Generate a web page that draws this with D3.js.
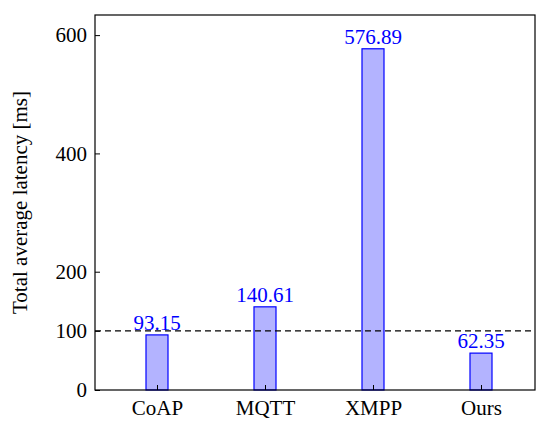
<!DOCTYPE html>
<html>
<head>
<meta charset="utf-8">
<script src="https://cdn.jsdelivr.net/npm/d3@7"></script>
<style>
  body { margin: 0; background: #fff; }
  text { font-family: "Liberation Serif", "DejaVu Serif", serif; }
</style>
</head>
<body>
<svg id="chart" width="550" height="434"></svg>
<script>
var categories = ['CoAP', 'MQTT', 'XMPP', 'Ours'];
var latency = [93.15, 140.61, 576.89, 62.35];
var yTicks = [0, 100, 200, 400, 600];
var threshold = 100;

var margin = { top: 15, right: 15, bottom: 44, left: 95 };
var width = 550 - margin.left - margin.right,
    height = 434 - margin.top - margin.bottom;

var svg = d3.select('#chart')
  .append('g')
    .attr('transform', 'translate(' + margin.left + ',' + margin.top + ')');

var x = d3.scalePoint()
    .domain(categories)
    .range([62, width - 54]);

var y = d3.scaleLinear()
    .domain([0, 634])
    .range([height, 0]);

var barWidth = 22;
var fontSize = 21;

// bars
svg.selectAll('rect.bar')
  .data(latency)
  .enter().append('rect')
    .attr('class', 'bar')
    .attr('x', function (d, i) { return x(categories[i]) - barWidth / 2; })
    .attr('y', function (d) { return y(d); })
    .attr('width', barWidth)
    .attr('height', function (d) { return y(0) - y(d); })
    .attr('fill', '#b3b3ff')
    .attr('stroke', '#0000ff')
    .attr('stroke-width', 1.2);

// value labels
svg.selectAll('text.val')
  .data(latency)
  .enter().append('text')
    .attr('class', 'val')
    .attr('x', function (d, i) { return x(categories[i]); })
    .attr('y', function (d) { return y(d) - 5; })
    .attr('text-anchor', 'middle')
    .attr('fill', '#0000ff')
    .attr('font-size', fontSize)
    .text(function (d) { return d.toFixed(2); });

// threshold line
svg.append('line')
  .attr('x1', 0).attr('x2', width)
  .attr('y1', y(threshold)).attr('y2', y(threshold))
  .attr('stroke', '#000')
  .attr('stroke-width', 1.2)
  .attr('stroke-dasharray', '6,4');

// axes
var yAxis = svg.append('g')
  .call(d3.axisLeft(y).tickValues(yTicks).tickSize(-5).tickPadding(8));
yAxis.selectAll('text').attr('font-size', fontSize).attr('fill', '#000');

var xAxis = svg.append('g')
  .attr('transform', 'translate(0,' + height + ')')
  .call(d3.axisBottom(x).tickSize(-5).tickPadding(10));
xAxis.selectAll('text').attr('font-size', fontSize).attr('fill', '#000');

svg.selectAll('.domain').remove();
svg.selectAll('.tick line').attr('stroke', '#000');

// frame
svg.append('rect')
  .attr('width', width).attr('height', height)
  .attr('fill', 'none').attr('stroke', '#000').attr('stroke-width', 1.2);

// y label
svg.append('text')
  .attr('transform', 'translate(-68,' + (height / 2) + ') rotate(-90)')
  .attr('text-anchor', 'middle')
  .attr('font-size', fontSize)
  .text('Total average latency [ms]');
</script>
</body>
</html>
